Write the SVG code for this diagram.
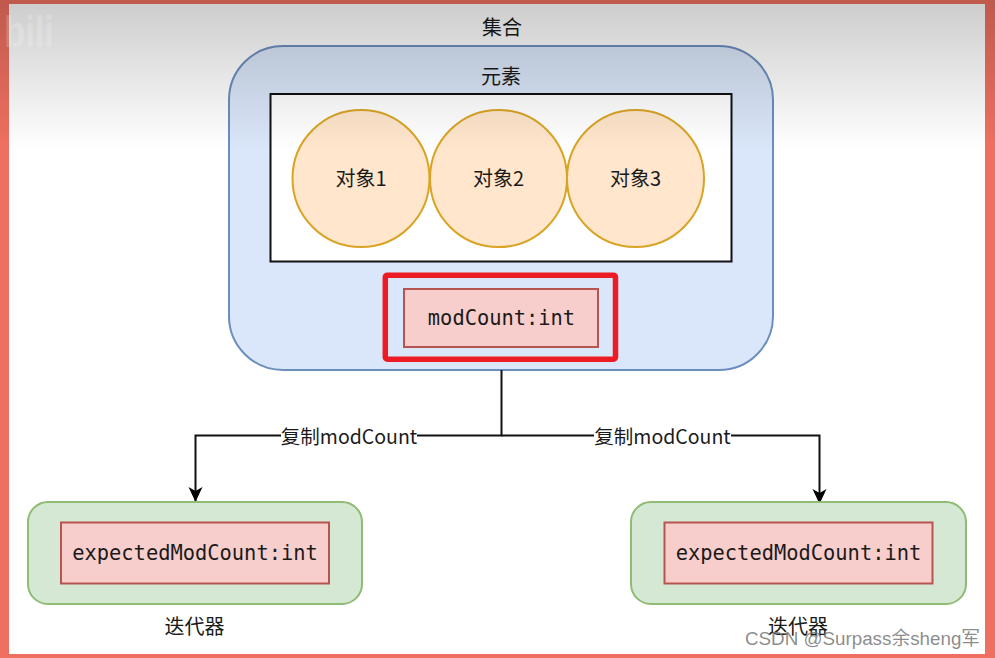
<svg xmlns="http://www.w3.org/2000/svg" width="995" height="658" viewBox="0 0 995 658">
<style>
.t{font-family:"Noto Sans CJK SC","Liberation Sans",sans-serif;font-size:20px;fill:#1a1a1a;text-anchor:middle}
.e{font-size:19.500px}
.m{font-family:"DejaVu Sans Mono","Liberation Mono",monospace;font-size:20.400px;fill:#1a1a1a;text-anchor:middle}
.c{fill:#ffe6cc;stroke:#d9a424;stroke-width:2}
.r{fill:#f8cecc;stroke:#b85450;stroke-width:2}
.g{fill:#d5e8d4;stroke:#8fbb74;stroke-width:2}
.l{fill:none;stroke:#111;stroke-width:2}
</style>
<defs>
<linearGradient id="shade" x1="0" y1="0" x2="0" y2="1"><stop offset="0" stop-color="#000" stop-opacity=".2"/><stop offset="1" stop-color="#000" stop-opacity="0"/></linearGradient>
<marker id="a" markerUnits="userSpaceOnUse" markerWidth="16" markerHeight="16" refX="14" refY="8" orient="auto"><path d="M0 1 L15 8 L0 15 L4 8 Z" fill="#000"/></marker>
</defs>
<rect width="995" height="658" fill="#ef7060"/>
<rect x="9" y="4" width="976" height="650" fill="#fff"/>
<g id="collection">
<text class="t" x="502" y="35">集合</text>
<rect x="229" y="46" width="544" height="324" rx="54" fill="#dae6f9" stroke="#6c8ebf" stroke-width="2"/>
<text class="t" x="501" y="84">元素</text>
</g>
<g id="elements"><rect x="270.500" y="94" width="461" height="167.500" fill="#fff" stroke="#111" stroke-width="2"/></g>
<g id="obj1"><circle class="c" cx="361" cy="178.500" r="68.500"/><text class="t" x="361" y="186">对象1</text></g>
<g id="obj2"><circle class="c" cx="498.500" cy="178.500" r="68.500"/><text class="t" x="498.500" y="186">对象2</text></g>
<g id="obj3"><circle class="c" cx="635.500" cy="178.500" r="68.500"/><text class="t" x="635.500" y="186">对象3</text></g>
<g id="modcount">
<rect x="404" y="289" width="194" height="58" class="r"/>
<text class="m" x="501.500" y="325">modCount:int</text>
<rect x="385.300" y="275.200" width="230.200" height="84" rx="2" fill="none" stroke="#ed1c24" stroke-width="5.500"/>
</g>
<g id="connectors">
<path class="l" d="M501.500 370 V435.500 H195.500 V501" marker-end="url(#a)"/>
<path class="l" d="M501.500 435.500 H819.500 V503" marker-end="url(#a)"/>
</g>
<g id="label1"><rect x="281" y="425" width="136" height="24" fill="#fff"/><text class="t e" x="349" y="444">复制modCount</text></g>
<g id="label2"><rect x="594" y="425" width="137" height="24" fill="#fff"/><text class="t e" x="662.500" y="444">复制modCount</text></g>
<g id="iter1">
<rect class="g" x="28" y="502" width="334" height="102" rx="20"/>
<rect class="r" x="61" y="522.500" width="268" height="61"/>
<text class="m" x="195" y="560">expectedModCount:int</text>
<text class="t" x="194.500" y="634">迭代器</text>
</g>
<g id="iter2">
<rect class="g" x="631" y="502" width="335" height="102" rx="20"/>
<rect class="r" x="664.500" y="522.500" width="268" height="61"/>
<text class="m" x="798.500" y="560">expectedModCount:int</text>
<text class="t" x="798" y="634">迭代器</text>
</g>
<rect width="995" height="150" fill="url(#shade)"/>
<text x="4" y="47" font-family="'Liberation Sans',sans-serif" font-size="44" font-weight="700" fill="#fff" fill-opacity=".2" textLength="50" lengthAdjust="spacingAndGlyphs">bili</text>
<text x="745" y="645" font-family="'Liberation Sans','Noto Sans CJK SC',sans-serif" font-size="18.800" fill="#777" fill-opacity=".85">CSDN @Surpass余sheng军</text>
</svg>
